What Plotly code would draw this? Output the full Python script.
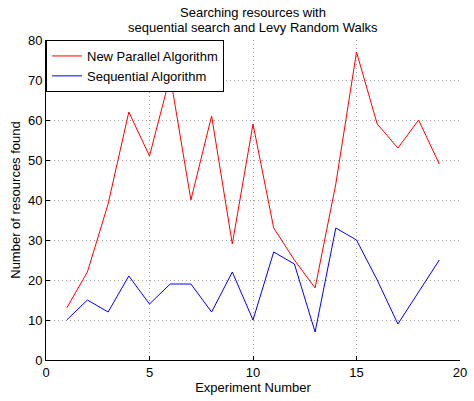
import plotly.graph_objects as go

experiments = list(range(1, 20))
parallel_found = [13, 22, 39, 62, 51, 71, 40, 61, 29, 59, 33, 25, 18, 44, 77, 59, 53, 60, 49]
sequential_found = [10, 15, 12, 21, 14, 19, 19, 12, 22, 10, 27, 24, 7, 33, 30, 20, 9, 17, 25]

FONT = "Liberation Sans, Arial, Helvetica, sans-serif"

fig = go.Figure()
fig.add_trace(go.Scatter(x=experiments, y=parallel_found, mode="lines",
                         name="New Parallel Algorithm",
                         line=dict(color="#ff0000", width=1)))
fig.add_trace(go.Scatter(x=experiments, y=sequential_found, mode="lines",
                         name="Sequential Algorithm",
                         line=dict(color="#0000ff", width=1)))

axis_common = dict(
    showline=True, linecolor="black", linewidth=1, mirror=False,
    ticks="inside", ticklen=4, tickcolor="black",
    showgrid=True, gridcolor="#a0a0a0", griddash="1px,3px", gridwidth=1,
    zeroline=False, tickfont=dict(size=13, color="black", family=FONT),
    automargin=False,
)

fig.update_layout(
    width=474, height=401,
    margin=dict(l=46, r=14, t=40, b=41),
    paper_bgcolor="white", plot_bgcolor="white",
    font=dict(family=FONT, size=13, color="black"),
    xaxis=dict(range=[0, 20], tickvals=[0, 5, 10, 15, 20],
               title=dict(text="Experiment Number", standoff=2,
                          font=dict(size=13, family=FONT)),
               **axis_common),
    yaxis=dict(range=[0, 80], tickvals=list(range(0, 81, 10)),
               title=dict(text="Number of resources found", standoff=4,
                          font=dict(size=13, family=FONT)),
               **axis_common),
    legend=dict(x=0, y=1, xanchor="left", yanchor="top",
                bordercolor="black", borderwidth=1, bgcolor="white",
                font=dict(size=13, family=FONT), tracegroupgap=0),
    showlegend=True,
    annotations=[
        dict(text="Searching resources with", xref="paper", yref="paper",
             x=0.5, y=1, yshift=28, xanchor="center", yanchor="middle",
             showarrow=False, font=dict(size=13, family=FONT, color="black")),
        dict(text="sequential search and Levy Random Walks", xref="paper", yref="paper",
             x=0.5, y=1, yshift=13, xanchor="center", yanchor="middle",
             showarrow=False, font=dict(size=13, family=FONT, color="black")),
    ],
)

fig.write_html("out.html", config={"displayModeBar": False},
               post_script="document.body.style.margin='0';")
